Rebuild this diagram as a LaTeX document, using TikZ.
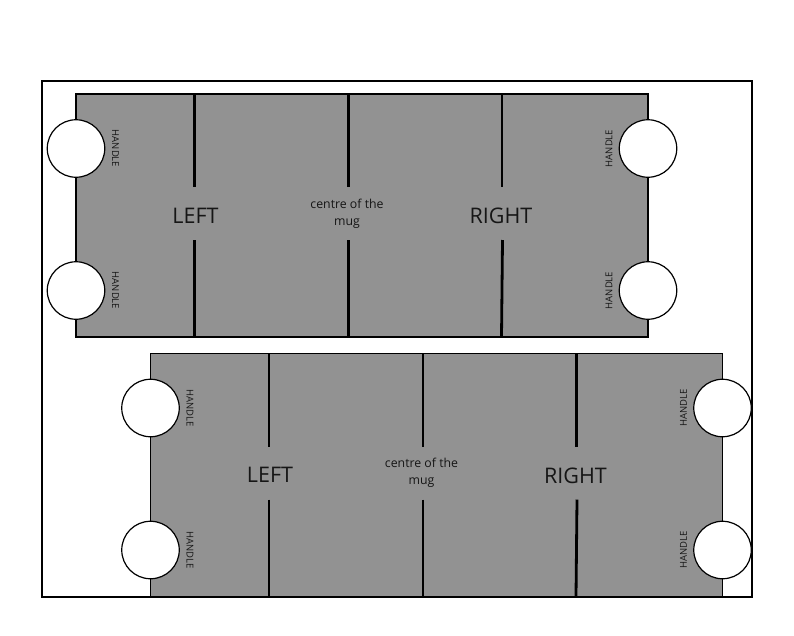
\documentclass[tikz,border=0pt]{standalone}
\usepackage{fontspec}
\setmainfont{Open Sans}
\definecolor{muggrey}{RGB}{146,146,146}
\definecolor{inkgrey}{RGB}{22,22,22}
\tikzset{
  sheet/.style={draw=black, line width=1.5pt, fill=white, inner sep=0pt, outer sep=0pt, minimum width=710pt, minimum height=516pt},
  panel/.style={draw=black, fill=muggrey, line width=1.2pt, minimum width=572pt, minimum height=243pt, inner sep=0pt, outer sep=0pt},
  handle/.style={circle, draw=black, fill=white, line width=1.2pt, minimum size=57.5pt, inner sep=0pt},
  divider/.style={line width=2.8pt, draw=black},
  bigtxt/.style={font=\fontsize{21.5}{24}\selectfont, text=inkgrey, inner sep=0pt},
  midtxt/.style={font=\fontsize{12.3}{17}\selectfont, text=inkgrey, align=center, inner sep=0pt},
  htxt/.style={font=\fontsize{9.5}{11}\selectfont, text=inkgrey, inner sep=0pt},
}
\newcommand{\mugpanel}{%
  \node[panel] (p) at (362,215.5) {};
  % dividers
  \coordinate (la) at (194.5,94);  \coordinate (lb) at (194.5,187);
  \coordinate (lc) at (194.5,240); \coordinate (ld) at (194.5,337);
  \coordinate (ca) at (348.5,94);  \coordinate (cb) at (348.5,187);
  \coordinate (cc) at (348.5,240); \coordinate (cd) at (348.5,337);
  \coordinate (ra) at (502,94);    \coordinate (rb) at (502,187);
  \coordinate (rc) at (502.5,240); \coordinate (rd) at (501.5,337);
  \draw[divider] (la) -- (lb);
  \draw[divider] (lc) -- (ld);
  \draw[divider] (ca) -- (cb);
  \draw[divider] (cc) -- (cd);
  \draw[divider] (ra) -- (rb);
  \draw[divider] (rc) -- (rd);
  % handles
  \node[handle] (h1) at (76,148.5) {};
  \node[handle] (h2) at (76,290.5) {};
  \node[handle] (h3) at (648,148.5) {};
  \node[handle] (h4) at (648,290.5) {};
  \node[htxt, rotate=-90] (t1) at (115.5,148.5) {HANDLE};
  \node[htxt, rotate=-90] (t2) at (115.5,290.5) {HANDLE};
  \node[htxt, rotate=90] (t3) at (609,148.5) {HANDLE};
  \node[htxt, rotate=90] (t4) at (609,290.5) {HANDLE};
  % labels
  \node[bigtxt] (left) at (195.5,215.5) {LEFT};
  \node[midtxt] (centre) at (347,213.5) {centre of the\\mug};
  \node[bigtxt] (right) at (501,216) {RIGHT};
}
\begin{document}
\begin{tikzpicture}[x=1pt, y=-1pt]
  \useasboundingbox (0,0) rectangle (794,635);
  \node[sheet] (frame) at (397,339) {};
  \begin{scope}[name prefix=top-]
    \mugpanel
  \end{scope}
  \begin{scope}[shift={(74.5,259.5)}, name prefix=bot-]
    \mugpanel
  \end{scope}
\end{tikzpicture}
\end{document}
